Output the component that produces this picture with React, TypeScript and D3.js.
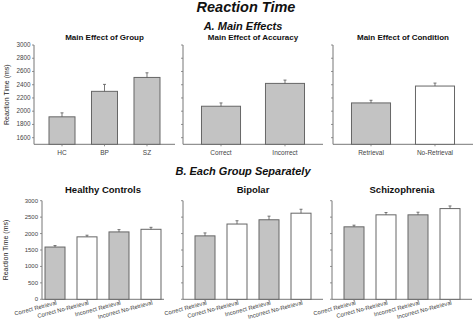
import React from "react";
import * as d3 from "d3";

const groupCats = ["HC", "BP", "SZ"];
const groupVals = [1915, 2300, 2510];
const groupErr = [60, 105, 70];

const accCats = ["Correct", "Incorrect"];
const accVals = [2075, 2420];
const accErr = [50, 50];

const condCats = ["Retrieval", "No-Retrieval"];
const condVals = [2125, 2380];
const condErr = [40, 45];

const cellCats = ["Correct Retrieval", "Correct No-Retrieval", "Incorrect Retrieval", "Incorrect No-Retrieval"];
const hcVals = [1590, 1900, 2050, 2130];
const hcErr = [45, 50, 70, 60];
const bpVals = [1930, 2290, 2420, 2620];
const bpErr = [90, 100, 110, 120];
const szVals = [2205, 2570, 2570, 2760];
const szErr = [50, 70, 80, 80];

const topTicks = [1600, 1800, 2000, 2200, 2400, 2600, 2800, 3000];
const bottomTicks = [0, 500, 1000, 1500, 2000, 2500, 3000];

const GRAY = "#c3c3c3";
const FONT = "'Liberation Sans', Arial, sans-serif";

type PanelProps = {
  title: string;
  titleSize: number;
  titleY: number;
  cats: string[];
  vals: number[];
  errs: number[];
  fills: string[];
  x0: number;
  x1: number;
  pi: number;
  po: number;
  y: d3.ScaleLinear<number, number>;
  ticks: number[];
  showTickLabels: boolean;
  yLabel: boolean;
  yLabelX: number;
  rotated: boolean;
  tickLabelX: number;
  axisTop: number;
  labelSize: number;
};

function Panel(p: PanelProps) {
  const x = d3.scaleBand<string>().domain(p.cats).range([p.x0, p.x1]).paddingInner(p.pi).paddingOuter(p.po);
  const [yb, yt] = p.y.range();
  const bw = x.bandwidth();
  const yMid = (yb + p.axisTop) / 2;
  return (
    <g>
      <text x={(p.x0 + p.x1) / 2} y={p.titleY} textAnchor="middle" fontWeight="bold" fontSize={p.titleSize} fill="#111">
        {p.title}
      </text>
      {p.yLabel && (
        <text transform={`translate(${p.yLabelX},${yMid}) rotate(-90)`} textAnchor="middle" fontSize={7} fill="#222">
          Reaction Time (ms)
        </text>
      )}
      {/* y axis */}
      <line x1={p.x0} x2={p.x0} y1={yb} y2={p.axisTop} stroke="#777" strokeWidth={1} />
      {p.ticks.map((t) => (
        <g key={t}>
          <line x1={p.x0 - 2} x2={p.x0} y1={p.y(t)} y2={p.y(t)} stroke="#777" strokeWidth={0.8} />
          {p.showTickLabels && (
            <text x={p.tickLabelX} y={p.y(t) + 2} textAnchor="end" fontSize={p.labelSize} fill="#444">
              {t}
            </text>
          )}
        </g>
      ))}
      {/* x axis */}
      <line x1={p.x0} x2={p.x1} y1={yb} y2={yb} stroke="#777" strokeWidth={1} />
      {p.cats.map((c, i) => {
        const bx = x(c) as number;
        const cx = bx + bw / 2;
        const top = p.y(p.vals[i]);
        const etop = p.y(p.vals[i] + p.errs[i]);
        return (
          <g key={c}>
            <rect x={bx} y={top} width={bw} height={yb - top} fill={p.fills[i]} stroke="#666" strokeWidth={1} />
            <line x1={cx} x2={cx} y1={top} y2={etop} stroke="#555" strokeWidth={0.8} />
            <line x1={cx - 1.5} x2={cx + 1.5} y1={etop} y2={etop} stroke="#555" strokeWidth={0.8} />
            <line x1={cx} x2={cx} y1={yb} y2={yb + 2} stroke="#777" strokeWidth={0.8} />
            {p.rotated ? (
              <text
                transform={`translate(${cx + 2},${yb + 5}) rotate(-15)`}
                textAnchor="end"
                fontSize={5.8}
                fill="#444"
              >
                {c}
              </text>
            ) : (
              <text x={cx} y={yb + 10.5} textAnchor="middle" fontSize={6.5} fill="#444">
                {c}
              </text>
            )}
          </g>
        );
      })}
    </g>
  );
}

export default function App() {
  const yTop = d3.scaleLinear().domain([1500, 3000]).range([144.3, 45]);
  const yBot = d3.scaleLinear().domain([0, 3000]).range([299.3, 200.7]);
  const fillsAlt = [GRAY, "#fff", GRAY, "#fff"];
  return (
    <svg width={474} height={321} style={{ position: "absolute", left: 0, top: 0, fontFamily: FONT }}>
      <rect width={474} height={321} fill="#fff" />
      <text x={246} y={12} textAnchor="middle" fontWeight="bold" fontStyle="italic" fontSize={14.5} fill="#111">
        Reaction Time
      </text>
      <text x={243} y={30} textAnchor="middle" fontWeight="bold" fontStyle="italic" fontSize={11} fill="#111">
        A. Main Effects
      </text>
      <text x={243} y={175} textAnchor="middle" fontWeight="bold" fontStyle="italic" fontSize={11} fill="#111">
        B. Each Group Separately
      </text>
      <Panel title="Main Effect of Group" titleSize={8} titleY={39.5} cats={groupCats} vals={groupVals} errs={groupErr}
        fills={[GRAY, GRAY, GRAY]} x0={34} x1={175} pi={0.388} po={0.353} y={yTop} ticks={topTicks}
        showTickLabels={true} yLabel={true} yLabelX={8.5} rotated={false} tickLabelX={30.5} axisTop={45} labelSize={6.3} />
      <Panel title="Main Effect of Accuracy" titleSize={8} titleY={39.5} cats={accCats} vals={accVals} errs={accErr}
        fills={[GRAY, GRAY]} x0={183} x1={323} pi={0.39} po={0.289} y={yTop} ticks={topTicks}
        showTickLabels={false} yLabel={false} yLabelX={0} rotated={false} tickLabelX={0} axisTop={45} labelSize={6.3} />
      <Panel title="Main Effect of Condition" titleSize={8} titleY={39.5} cats={condCats} vals={condVals} errs={condErr}
        fills={[GRAY, "#fff"]} x0={333} x1={473} pi={0.39} po={0.289} y={yTop} ticks={topTicks}
        showTickLabels={false} yLabel={false} yLabelX={0} rotated={false} tickLabelX={0} axisTop={45} labelSize={6.3} />
      <Panel title="Healthy Controls" titleSize={9.5} titleY={192.5} cats={cellCats} vals={hcVals} errs={hcErr}
        fills={fillsAlt} x0={42} x1={164} pi={0.375} po={0.094} y={yBot} ticks={bottomTicks}
        showTickLabels={true} yLabel={true} yLabelX={7.5} rotated={true} tickLabelX={38} axisTop={200.7} labelSize={6} />
      <Panel title="Bipolar" titleSize={9.5} titleY={192.5} cats={cellCats} vals={bpVals} errs={bpErr}
        fills={fillsAlt} x0={183} x1={323} pi={0.375} po={0.375} y={yBot} ticks={bottomTicks}
        showTickLabels={false} yLabel={false} yLabelX={0} rotated={true} tickLabelX={0} axisTop={200.7} labelSize={6} />
      <Panel title="Schizophrenia" titleSize={9.5} titleY={192.5} cats={cellCats} vals={szVals} errs={szErr}
        fills={fillsAlt} x0={332} x1={472} pi={0.375} po={0.375} y={yBot} ticks={bottomTicks}
        showTickLabels={false} yLabel={false} yLabelX={0} rotated={true} tickLabelX={0} axisTop={200.7} labelSize={6} />
    </svg>
  );
}
